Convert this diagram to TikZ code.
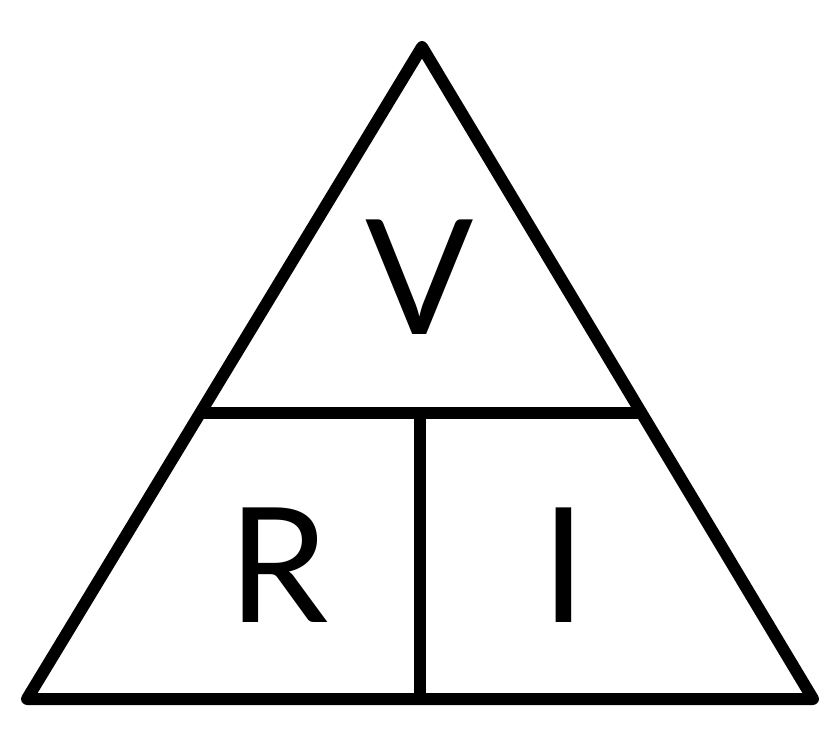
\documentclass[tikz,border=0pt]{standalone}
\usepackage{fontspec}
\setmainfont{Lato}
\usepackage{tikz}
\usetikzlibrary{positioning}

\begin{document}
\begin{tikzpicture}[x=0.5pt,y=-0.5pt,line width=6pt,line join=round,
  letter/.style={inner sep=0pt,font=\fontsize{80}{80}\selectfont}]
\useasboundingbox (0,0) rectangle (840,742);
\coordinate (top)   at (422,47);
\coordinate (left)  at (27,699);
\coordinate (right) at (813,699);
\coordinate (midl)  at (200,413);
\coordinate (midr)  at (642,413);
\coordinate (midt)  at (420,413);
\coordinate (midb)  at (420,699);

\node[letter] (V) at (420,277.5) {V};
\node[letter] (R) at (279,565)   {R};
\node[letter] (I) at (564,565)   {I};

\draw (top) -- (right) -- (left) -- cycle;
\draw (midl) -- (midr);
\draw (midt) -- (midb);
\end{tikzpicture}
\end{document}
